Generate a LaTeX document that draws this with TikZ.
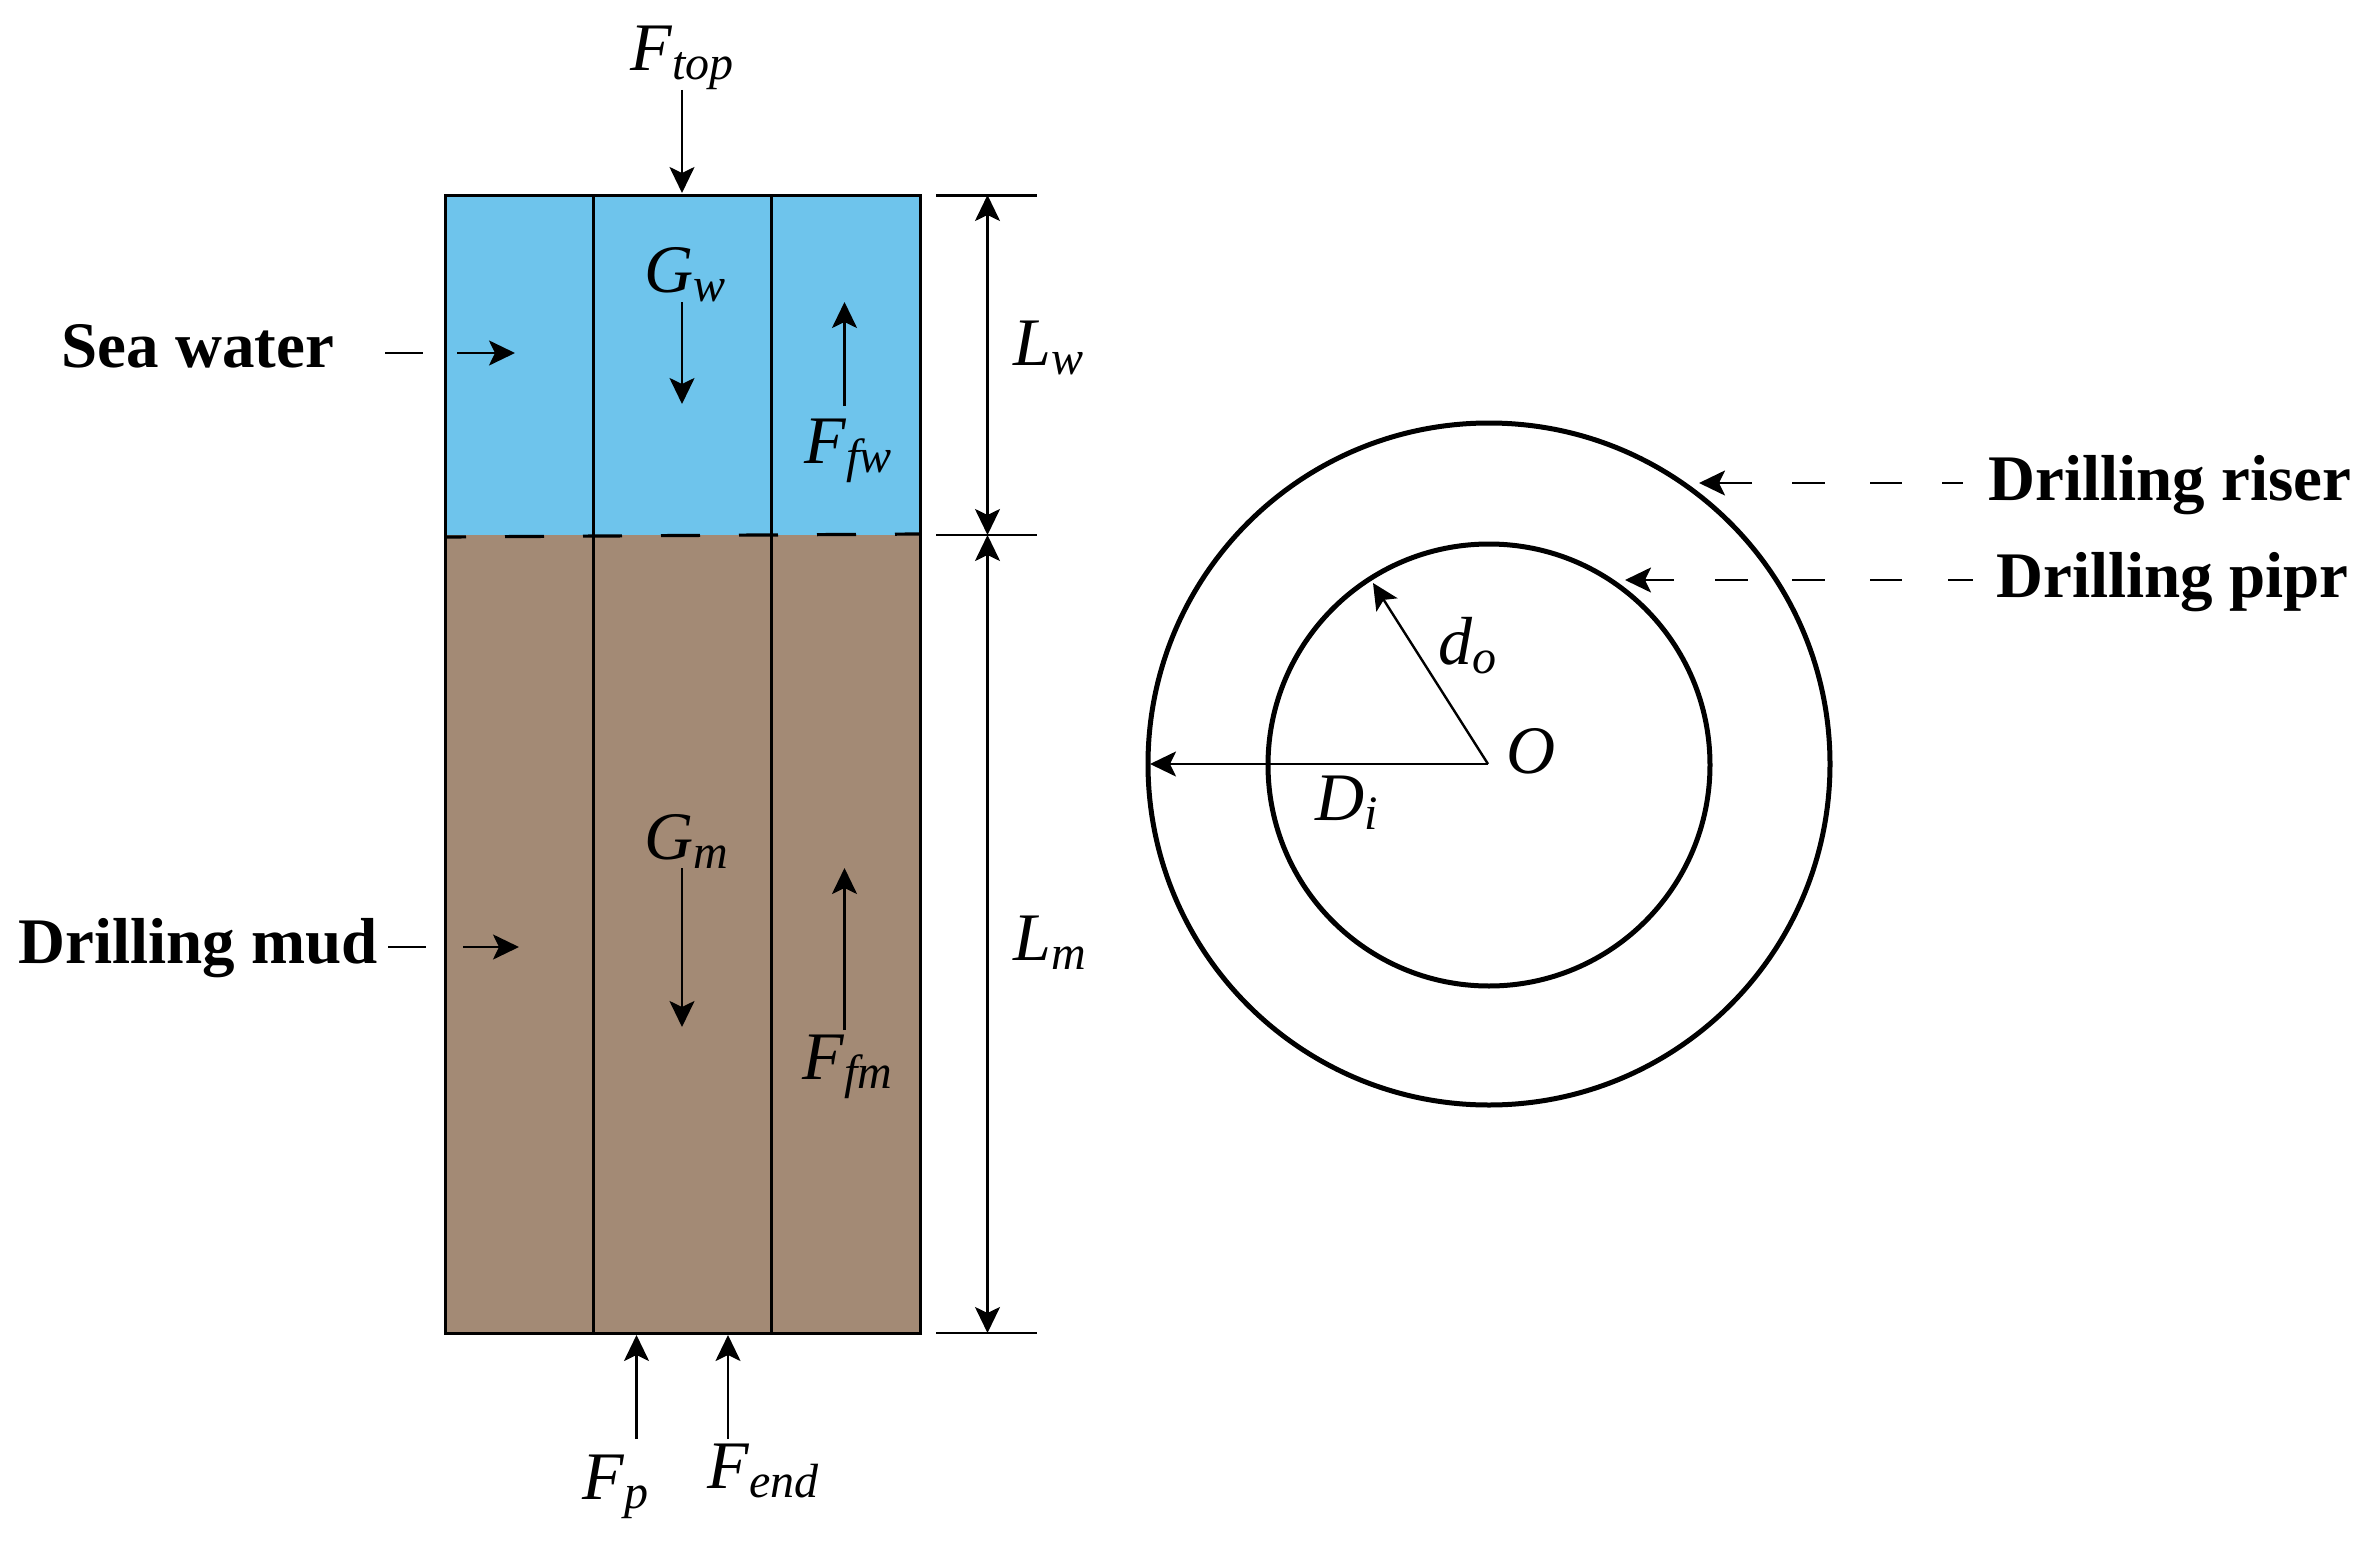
\documentclass[tikz,border=0pt]{standalone}
\usepackage{fontspec}
\setmainfont{Liberation Serif}
\usetikzlibrary{arrows.meta}
\definecolor{seablue}{HTML}{6EC4EC}
\definecolor{mudbrown}{HTML}{A38A75}
\newcommand{\forcelbl}[2]{\textit{#1}\raisebox{-4.5pt}{\fontsize{24}{26}\selectfont\textit{#2}}}
\tikzset{
  >={Stealth[length=13pt,width=12.5pt,inset=3pt]},
  maths/.style={anchor=base west,inner sep=0,font=\fontsize{34}{40}\selectfont},
  tag/.style={anchor=base west,inner sep=0,font=\fontsize{32.5}{38}\selectfont\bfseries},
  thinline/.style={draw=black,line width=1.2pt},
  force/.style={draw=black,line width=1.2pt,->},
  dim/.style={draw=black,line width=1.2pt,<->},
  leader/.style={draw=black,line width=1.3pt},
  ring/.style={draw=black,line width=2.5pt},
}
\begin{document}
\begin{tikzpicture}[x=0.5pt,y=-0.5pt]
\useasboundingbox (0,0) rectangle (2378,1541);
% column
\fill[seablue] (445,195) rectangle (920,535);
\fill[mudbrown] (445,535) rectangle (920,1333);
\draw[thinline,line width=1.5pt] (445,195) rectangle (920,1333);
\draw[thinline] (593.5,195) -- (593.5,1333);
\draw[thinline] (771.5,195) -- (771.5,1333);
\draw[draw=black,line width=1.6pt,dash pattern=on 19.5pt off 19.5pt,dash phase=9pt] (445,537) -- (920,534);
% dimension ticks
\draw[thinline,line width=1.5pt] (936,195) -- (1037,195);
\draw[thinline] (936,535) -- (1037,535);
\draw[thinline] (936,1333) -- (1037,1333);
\coordinate (dt) at (987.5,195);
\coordinate (dm) at (987.5,535);
\coordinate (db) at (987.5,1333);
\draw[dim] (dt) -- (dm);
\draw[dim] (dm) -- (db);
% labels
\node[maths] (Ftop) at (630,71) {\forcelbl{F}{top}};
\node[maths] (Gw) at (644,292) {\forcelbl{G}{w}};
\node[maths] (Ffw) at (804,463) {\forcelbl{F}{fw}};
\node[maths] (Lw) at (1013,365) {\forcelbl{L}{w}};
\node[maths] (Gm) at (644,859) {\forcelbl{G}{m}};
\node[maths] (Ffm) at (802,1079) {\forcelbl{F}{fm}};
\node[maths] (Lm) at (1013,960) {\forcelbl{L}{m}};
\node[maths] (Fp) at (582,1499) {\forcelbl{F}{p}};
\node[maths] (Fend) at (707,1488) {\forcelbl{F}{end}};
% forces
\coordinate (a1) at (682,90);  \coordinate (a2) at (682,193);
\draw[force] (a1) -- (a2);
\coordinate (b1) at (682,302); \coordinate (b2) at (682,404);
\draw[force] (b1) -- (b2);
\coordinate (c1) at (844.5,406); \coordinate (c2) at (844.5,302);
\draw[force] (c1) -- (c2);
\coordinate (d1) at (682,868); \coordinate (d2) at (682,1027);
\draw[force] (d1) -- (d2);
\coordinate (e1) at (844.5,1030); \coordinate (e2) at (844.5,868);
\draw[force] (e1) -- (e2);
\coordinate (f1) at (636.5,1439); \coordinate (f2) at (636.5,1335);
\draw[force] (f1) -- (f2);
\coordinate (g1) at (728,1439); \coordinate (g2) at (728,1335);
\draw[force] (g1) -- (g2);
% side tags
\node[tag] (sea) at (61,367) {Sea water};
\node[tag] (mud) at (18,963) {Drilling mud};
\draw[leader] (385,353) -- (423,353);
\coordinate (s1) at (457,353); \coordinate (s2) at (515,353);
\draw[force] (s1) -- (s2);
\draw[leader] (388,947) -- (426,947);
\coordinate (m1) at (463,947); \coordinate (m2) at (519,947);
\draw[force] (m1) -- (m2);
% section
\coordinate (O) at (1488,764);
\draw[ring] (1489,764) circle (341);
\draw[ring] (1489,765) circle (221);
\coordinate (Dtip) at (1150,764);
\coordinate (dtip) at (1373,583);
\draw[force] (O) -- (Dtip);
\draw[force] (O) -- (dtip);
\node[maths] (Olab) at (1506,773) {\textit{O}};
\node[maths] (Di) at (1315,820) {\forcelbl{D}{i}};
\node[maths] (do) at (1438,664) {\forcelbl{d}{o}};
\node[tag] (riser) at (1988,500) {Drilling riser};
\node[tag] (pipe) at (1996,597) {Drilling pipr};
\coordinate (r1) at (1752,483); \coordinate (r2) at (1699,483);
\draw[force] (r1) -- (r2);
\draw[leader] (1792,483) -- (1825,483);
\draw[leader] (1870,483) -- (1902,483);
\draw[leader] (1942,483) -- (1963,483);
\coordinate (p1) at (1674,580); \coordinate (p2) at (1625,580);
\draw[force] (p1) -- (p2);
\draw[leader] (1715,580) -- (1748,580);
\draw[leader] (1792,580) -- (1825,580);
\draw[leader] (1870,580) -- (1902,580);
\draw[leader] (1948,580) -- (1973,580);
\end{tikzpicture}
\end{document}
